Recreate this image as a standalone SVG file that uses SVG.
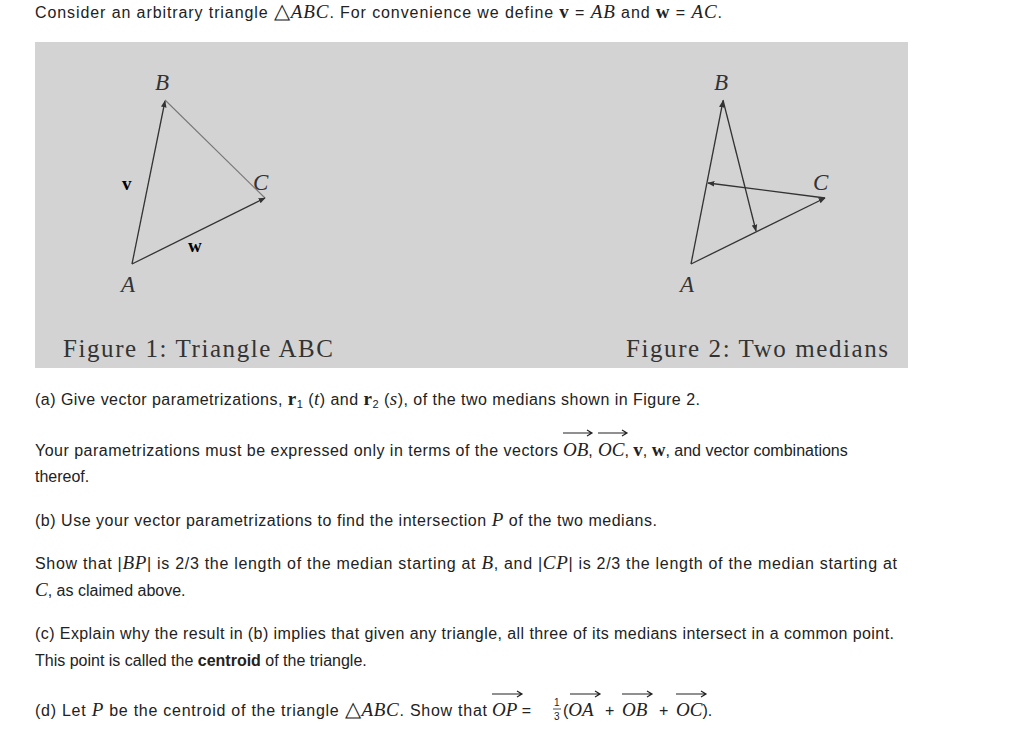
<svg xmlns="http://www.w3.org/2000/svg" width="1024" height="745" viewBox="0 0 1024 745">
<style>
.t{font-family:"Liberation Sans",Arial,sans-serif;font-size:16px;fill:#222}
.m{font-family:"Liberation Serif","Times New Roman",serif;font-style:italic;font-size:19px}
.b{font-family:"Liberation Serif","Times New Roman",serif;font-weight:bold;font-size:19px}
.lab{font-family:"Liberation Serif","Times New Roman",serif;font-style:italic;font-size:23px;fill:#333}
.cap{font-family:"Liberation Serif","Times New Roman",serif;font-size:25px;fill:#333}
.ln{stroke:#333;stroke-width:1.3;fill:none}
.oa{stroke:#222;stroke-width:1.2;fill:none}
</style>
<defs>
<marker id="ar" viewBox="0 0 10 10" refX="9" refY="5" markerWidth="7" markerHeight="7" orient="auto" markerUnits="userSpaceOnUse"><path d="M0,1 L10,5 L0,9 Z" fill="#333"/></marker>
</defs>
<rect width="1024" height="745" fill="#fff"/>
<text class="t" x="35" y="18" textLength="687" lengthAdjust="spacing">Consider an arbitrary triangle <tspan font-size="21">△</tspan><tspan class="m">ABC</tspan>. For convenience we define <tspan class="b">v</tspan> = <tspan class="m">AB</tspan> and <tspan class="b">w</tspan> = <tspan class="m">AC</tspan>.</text>
<rect x="35" y="42" width="873" height="326" fill="#d3d3d3"/>
<g id="connectors">
<line class="ln" x1="132" y1="264" x2="165" y2="101" marker-end="url(#ar)"/>
<line x1="165" y1="100" x2="265" y2="198" stroke="#777" stroke-width="1.1"/>
<line class="ln" x1="132" y1="264" x2="265" y2="198" marker-end="url(#ar)"/>
<line class="ln" x1="691" y1="264" x2="723" y2="101" marker-end="url(#ar)"/>
<line class="ln" x1="691" y1="264" x2="825" y2="198" marker-end="url(#ar)"/>
<line class="ln" x1="723" y1="100" x2="756" y2="231" marker-end="url(#ar)"/>
<line class="ln" x1="825" y1="198" x2="708" y2="183" marker-end="url(#ar)"/>
</g>
<g id="fig1">
<text class="lab" x="155" y="90">B</text>
<text class="lab" x="253" y="190">C</text>
<text class="lab" x="121" y="292">A</text>
<text class="b" x="122" y="190">v</text>
<text class="b" x="188" y="252">w</text>
<text class="cap" x="63" y="357" textLength="270" lengthAdjust="spacing">Figure 1: Triangle ABC</text>
</g>
<g id="fig2">
<text class="lab" x="714" y="90">B</text>
<text class="lab" x="813" y="190">C</text>
<text class="lab" x="680" y="292">A</text>
<text class="cap" x="626" y="357" textLength="262" lengthAdjust="spacing">Figure 2: Two medians</text>
</g>
<text class="t" x="35" y="405" textLength="665" lengthAdjust="spacing">(a) Give vector parametrizations, <tspan class="b">r</tspan><tspan font-size="11" dy="3">1</tspan><tspan dy="-3"> (</tspan><tspan class="m">t</tspan>) and <tspan class="b">r</tspan><tspan font-size="11" dy="3">2</tspan><tspan dy="-3"> (</tspan><tspan class="m">s</tspan>), of the two medians shown in Figure 2.</text>
<text class="t" x="35" y="456" textLength="523" lengthAdjust="spacing">Your parametrizations must be expressed only in terms of the vectors</text>
<text class="t" x="563" y="456"><tspan class="m">OB</tspan>,</text>
<text class="t" x="598" y="456"><tspan class="m">OC</tspan>, <tspan class="b">v</tspan>, <tspan class="b">w</tspan>, and vector combinations</text>
<path class="oa" d="M563,433 h29 M587,430 l5,3 l-5,3 M598,433 h29 M622,430 l5,3 l-5,3"/>
<text class="t" x="35" y="482">thereof.</text>
<text class="t" x="35" y="526" textLength="622" lengthAdjust="spacing">(b) Use your vector parametrizations to find the intersection <tspan class="m">P</tspan> of the two medians.</text>
<text class="t" x="35" y="569" textLength="862" lengthAdjust="spacing">Show that |<tspan class="m">BP</tspan>| is 2/3 the length of the median starting at <tspan class="m">B</tspan>, and |<tspan class="m">CP</tspan>| is 2/3 the length of the median starting at</text>
<text class="t" x="35" y="596"><tspan class="m">C</tspan>, as claimed above.</text>
<text class="t" x="35" y="639" textLength="859" lengthAdjust="spacing">(c) Explain why the result in (b) implies that given any triangle, all three of its medians intersect in a common point.</text>
<text class="t" x="35" y="666">This point is called the <tspan font-weight="bold">centroid</tspan> of the triangle.</text>
<text class="t" x="35" y="716" textLength="452" lengthAdjust="spacing">(d) Let <tspan class="m">P</tspan> be the centroid of the triangle <tspan font-size="21">△</tspan><tspan class="m">ABC</tspan>. Show that</text>
<text class="t" x="492" y="716"><tspan class="m">OP</tspan> =</text>
<line x1="553" y1="709" x2="561" y2="709" stroke="#222" stroke-width="0.8"/>
<text class="t"><tspan x="554" y="706" font-size="10">1</tspan><tspan x="554" y="720" font-size="10">3</tspan><tspan x="563" y="716">(</tspan><tspan class="m">OA</tspan></text>
<text class="t" x="605" y="716">+</text>
<text class="t" x="622" y="716"><tspan class="m">OB</tspan></text>
<text class="t" x="659" y="716">+</text>
<text class="t" x="676" y="716"><tspan class="m">OC</tspan>).</text>
<path class="oa" d="M570,694 h30 M595,691 l5,3 l-5,3 M492,694 h30 M517,691 l5,3 l-5,3 M622,694 h30 M647,691 l5,3 l-5,3 M676,694 h30 M701,691 l5,3 l-5,3"/>
</svg>
